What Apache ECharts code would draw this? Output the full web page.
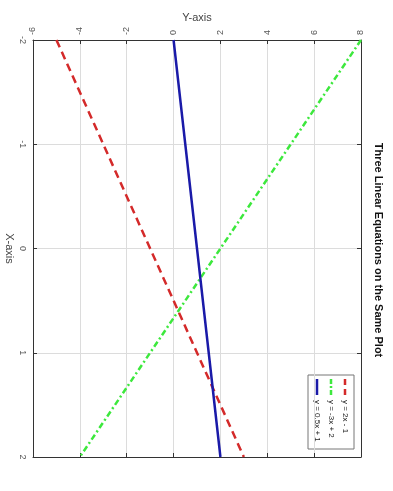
<!DOCTYPE html>
<html><head><meta charset="utf-8">
<script src="https://cdn.jsdelivr.net/npm/echarts@6/dist/echarts.min.js"></script>
<style>html,body{margin:0;padding:0;background:#fff}#c{width:393px;height:491px}</style>
</head><body><div id="c"></div>
<script>
const xValues = [-2, -1, 0, 1, 2];
const redY = [-5, -3, -1, 1, 3];      // y = 2x - 1
const greenY = [8, 5, 2, -1, -4];     // y = -3x + 2
const blueY = [0, 0.5, 1, 1.5, 2];    // y = 0.5x + 1
const seriesNames = ['y = 2x - 1', 'y = -3x + 2', 'y = 0.5x + 1'];
const title = 'Three Linear Equations on the Same Plot';

const pair = ys => ys.map((y, i) => [y, xValues[i]]);
const chart = echarts.init(document.getElementById('c'));
const font = 'Liberation Sans, Arial, sans-serif';
const tickStyle = {show: true, inside: true, length: 4, lineStyle: {color: '#333'}};
const line = {show: true, onZero: false, lineStyle: {color: '#333'}};
chart.setOption({
  animation: false,
  backgroundColor: '#fff',
  grid: {left: 33, right: 32, top: 40, bottom: 34, containLabel: false, outerBoundsMode: 'none'},
  xAxis: [
    {type: 'value', position: 'top', min: -6, max: 8, interval: 2,
     name: 'Y-axis', nameLocation: 'middle', nameGap: 17, nameMoveOverlap: false,
     nameTextStyle: {fontFamily: font, fontSize: 11, color: '#444'},
     axisLine: line, axisTick: tickStyle,
     axisLabel: {rotate: -90, fontSize: 9, color: '#555', fontFamily: font, margin: 5},
     splitLine: {show: true, lineStyle: {color: '#dcdcdc'}}},
    {type: 'value', position: 'bottom', min: -6, max: 8, interval: 2,
     axisLine: line, axisTick: tickStyle,
     axisLabel: {show: false}, splitLine: {show: false}}
  ],
  yAxis: [
    {type: 'value', position: 'left', inverse: true, min: -2, max: 2, interval: 1,
     name: 'X-axis', nameLocation: 'middle', nameGap: 18, nameRotate: -90, nameMoveOverlap: false,
     nameTextStyle: {fontFamily: font, fontSize: 11, color: '#444'},
     axisLine: line, axisTick: tickStyle,
     axisLabel: {rotate: -90, fontSize: 9, color: '#555', fontFamily: font, margin: 6},
     splitLine: {show: true, lineStyle: {color: '#dcdcdc'}}},
    {type: 'value', position: 'right', inverse: true, min: -2, max: 2, interval: 1,
     axisLine: line, axisTick: tickStyle,
     axisLabel: {show: false}, splitLine: {show: false}}
  ],
  series: [
    {name: seriesNames[0], type: 'line', data: pair(redY), showSymbol: false,
     lineStyle: {color: '#d42a2a', width: 2.5, type: [8, 5]}},
    {name: seriesNames[1], type: 'line', data: pair(greenY), showSymbol: false,
     lineStyle: {color: '#3de83d', width: 2.5, type: [6, 3, 2, 3]}},
    {name: seriesNames[2], type: 'line', data: pair(blueY), showSymbol: false,
     lineStyle: {color: '#1a1aa8', width: 2.5}}
  ],
  graphic: [
    {type: 'text', x: 378, y: 250, rotation: -Math.PI/2,
     style: {text: title, font: 'bold 11px ' + font, fill: '#111', align: 'center', verticalAlign: 'middle'}},
    {type: 'group', x: 354, y: 375, rotation: -Math.PI/2, children: [
      {type: 'rect', shape: {x: 0, y: 0, width: 74, height: 46},
       style: {fill: '#fff', stroke: '#777', lineWidth: 1}},
      {type: 'line', shape: {x1: 4, y1: 9, x2: 20, y2: 9}, style: {stroke: '#d42a2a', lineWidth: 2.5, lineDash: [6, 4]}},
      {type: 'text', x: 25, y: 9, style: {text: seriesNames[0], font: '8px ' + font, fill: '#222', verticalAlign: 'middle'}},
      {type: 'line', shape: {x1: 4, y1: 23, x2: 20, y2: 23}, style: {stroke: '#3de83d', lineWidth: 2.5, lineDash: [5, 2, 2, 2]}},
      {type: 'text', x: 25, y: 23, style: {text: seriesNames[1], font: '8px ' + font, fill: '#222', verticalAlign: 'middle'}},
      {type: 'line', shape: {x1: 4, y1: 37, x2: 20, y2: 37}, style: {stroke: '#1a1aa8', lineWidth: 2.5}},
      {type: 'text', x: 25, y: 37, style: {text: seriesNames[2], font: '8px ' + font, fill: '#222', verticalAlign: 'middle'}}
    ]}
  ]
});
</script></body></html>
